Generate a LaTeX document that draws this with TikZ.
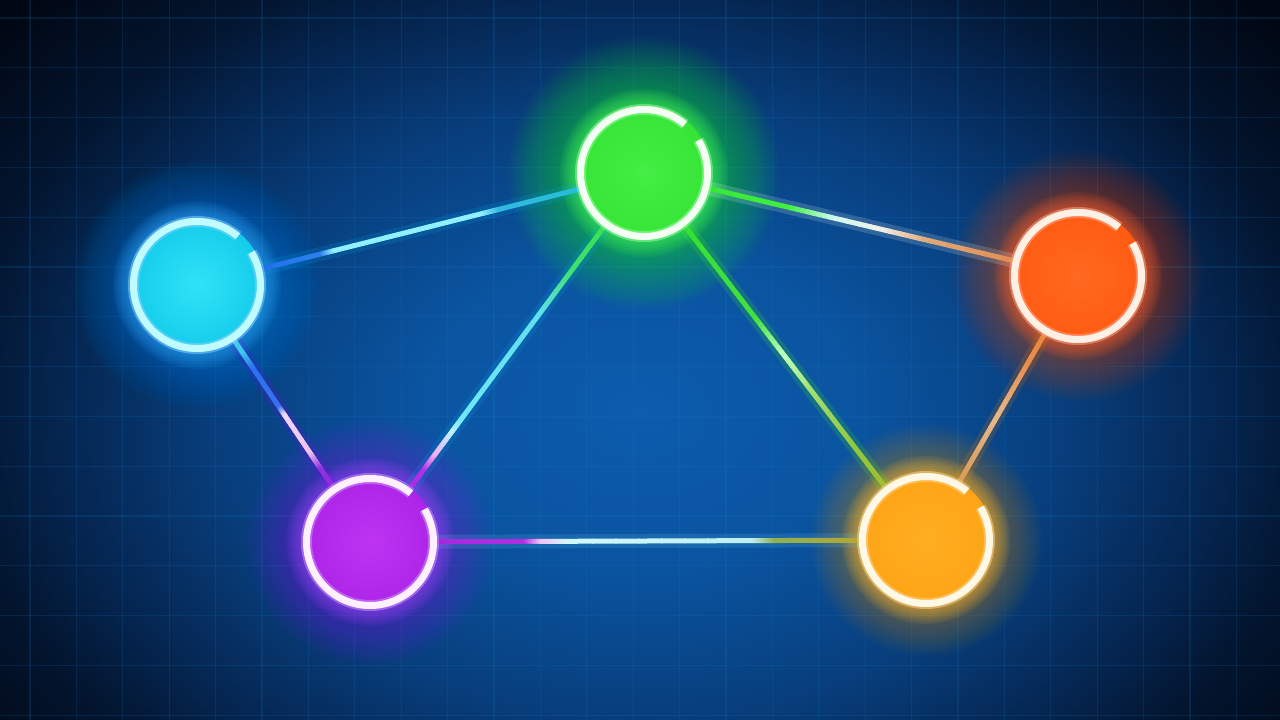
\documentclass[tikz,border=0pt]{standalone}
\usetikzlibrary{calc}
\pgfdeclarelayer{bgl}\pgfdeclarelayer{glowl}\pgfdeclarelayer{edgel}
\pgfsetlayers{bgl,glowl,edgel,main}
\pgfdeclareradialshading{bgshade}{\pgfpoint{0bp}{0bp}}{rgb(0bp)=(0.05,0.36,0.68);rgb(6bp)=(0.04,0.33,0.63);rgb(12bp)=(0.03,0.24,0.48);rgb(16bp)=(0.02,0.15,0.32);rgb(19bp)=(0.01,0.08,0.18);rgb(23bp)=(0.005,0.03,0.08);rgb(25bp)=(0.005,0.025,0.06);rgb(50bp)=(0.005,0.025,0.06)}
% gradient piece of a connector: from node #1 to node #2, between fractions #3 and #4, colours #5 -> #6 (HTML)
\newcommand\gseg[6]{%
  \definecolor{gsA}{HTML}{#5}\definecolor{gsB}{HTML}{#6}%
  \foreach \k in {0,...,7}{%
    \pgfmathsetmacro\ta{#3+(#4-#3)*\k/8}%
    \pgfmathsetmacro\tb{#3+(#4-#3)*(\k+1)/8}%
    \pgfmathtruncatemacro\pc{100-100*(\k+0.5)/8}%
    \draw[edgeline, color=gsA!\pc!gsB] ($(#1)!\ta!(#2)$) -- ($(#1)!\tb!(#2)$);
  }}
\newcommand\ringof[4]{% node, ring colour, glow colour, outer glow radius
  \begin{pgfonlayer}{glowl}
    \foreach \r in {66,68,...,#4}{\fill[#3, opacity=0.02] (#1.center) circle[radius=\r pt];}
    \foreach \w in {8,12,...,40}{\draw[#3!80!white, line width=\w pt, opacity=0.08] (#1.center) circle[radius=64pt];}
  \end{pgfonlayer}
  \draw[#3!45!white, line width=11pt, opacity=0.5] ([shift={(50:63.5pt)}]#1.center) arc[start angle=50, end angle=391, radius=63.5pt];
  \draw[#2, line width=7pt] ([shift={(50:63.5pt)}]#1.center) arc[start angle=50, end angle=391, radius=63.5pt];
}
\begin{document}
\begin{tikzpicture}[x=1pt, y=1pt,
  ball/.style={circle, minimum size=134pt, inner sep=0pt, draw=none},
  edgeline/.style={line width=5pt, line cap=round},
  edgeglow/.style={line width=14pt, opacity=0.16},
  gridline/.style={color=cyan!60!blue, line width=1.2pt, opacity=0.17}]
\useasboundingbox (0,0) rectangle (1280,720);
\definecolor{gCy}{HTML}{0098FF}\definecolor{gGr}{HTML}{20FF30}\definecolor{gOr}{HTML}{FF4000}
\definecolor{gPu}{HTML}{9020FF}\definecolor{gAm}{HTML}{FFA800}
\definecolor{rCy}{HTML}{C0FCFF}\definecolor{rGr}{HTML}{F4FFF4}\definecolor{rOr}{HTML}{FFF0E6}
\definecolor{rPu}{HTML}{FFF0FF}\definecolor{rAm}{HTML}{FFF8E6}
\definecolor{iCy}{HTML}{30E2F8}\definecolor{oCy}{HTML}{14CCEA}
\definecolor{iGr}{HTML}{44EE44}\definecolor{oGr}{HTML}{36E436}
\definecolor{iOr}{HTML}{FF6A20}\definecolor{oOr}{HTML}{FF5A12}
\definecolor{iPu}{HTML}{BE34F2}\definecolor{oPu}{HTML}{AE24E8}
\definecolor{iAm}{HTML}{FFAE22}\definecolor{oAm}{HTML}{FFA416}
% background
\begin{pgfonlayer}{bgl}
  \fill[black!90!blue] (0,0) rectangle (1280,720);
  \begin{scope}
    \clip (0,0) rectangle (1280,720);
    \shade[shading=bgshade] (640,310) ellipse[x radius=900, y radius=650];
    \foreach \k in {0,...,27}{\draw[gridline] (30+46.4*\k,0) -- (30+46.4*\k,720);}
    \foreach \k in {0,...,14}{\draw[gridline] (0,702-49.8*\k) -- (1280,702-49.8*\k);}
  \end{scope}
\end{pgfonlayer}
% nodes
\node[ball, inner color=iCy, outer color=oCy] (cy) at (197,435) {};
\node[ball, inner color=iGr, outer color=oGr] (gr) at (644,547) {};
\node[ball, inner color=iOr, outer color=oOr] (or) at (1078,444) {};
\node[ball, inner color=iPu, outer color=oPu] (pu) at (370,178) {};
\node[ball, inner color=iAm, outer color=oAm] (am) at (926,180) {};
\ringof{cy}{rCy}{gCy}{124}
\ringof{gr}{rGr}{gGr}{136}
\ringof{or}{rOr}{gOr}{126}
\ringof{pu}{rPu}{gPu}{124}
\ringof{am}{rAm}{gAm}{116}
% connectors
\begin{pgfonlayer}{edgel}
  \draw[edgeglow, color=cyan] (cy) -- (gr);
  \draw[edgeglow, color=white] (gr) -- (or);
  \draw[edgeglow, color=blue!50!magenta] (cy) -- (pu);
  \draw[edgeglow, color=cyan] (pu) -- (gr);
  \draw[edgeglow, color=green!70!yellow] (gr) -- (am);
  \draw[edgeglow, color=orange] (or) -- (am);
  \draw[edgeglow, color=cyan!60!white] (pu) -- (am);
  % cyan -- green
  \gseg{cy}{gr}{0}{0.28}{1A5EE0}{2A80F0}
  \gseg{cy}{gr}{0.28}{0.31}{2A80F0}{8FF0FF}
  \gseg{cy}{gr}{0.31}{0.64}{8FF0FF}{90F0FF}
  \gseg{cy}{gr}{0.64}{0.68}{90F0FF}{30B8E0}
  \gseg{cy}{gr}{0.68}{1}{30B8E0}{20C0D0}
  % green -- orange-red
  \gseg{gr}{or}{0}{0.34}{30E030}{40F040}
  \gseg{gr}{or}{0.34}{0.44}{40F040}{D0F8F0}
  \gseg{gr}{or}{0.44}{0.55}{D0F8F0}{F0F0E8}
  \gseg{gr}{or}{0.55}{0.66}{F0F0E8}{E0A878}
  \gseg{gr}{or}{0.66}{1}{E0A878}{E87838}
  % cyan -- purple
  \gseg{cy}{pu}{0}{0.27}{30E0F0}{40C8F0}
  \gseg{cy}{pu}{0.27}{0.33}{40C8F0}{2A70F0}
  \gseg{cy}{pu}{0.33}{0.48}{2A70F0}{3A70F0}
  \gseg{cy}{pu}{0.48}{0.51}{3A70F0}{F0D8F8}
  \gseg{cy}{pu}{0.51}{0.66}{F0D8F8}{F0C0F0}
  \gseg{cy}{pu}{0.66}{0.72}{F0C0F0}{9030E0}
  \gseg{cy}{pu}{0.72}{1}{9030E0}{A020E0}
  % purple -- green
  \gseg{pu}{gr}{0}{0.20}{A020E0}{B030E8}
  \gseg{pu}{gr}{0.20}{0.24}{B030E8}{F0B0F0}
  \gseg{pu}{gr}{0.24}{0.30}{F0B0F0}{C0F0FF}
  \gseg{pu}{gr}{0.30}{0.34}{C0F0FF}{70E8F8}
  \gseg{pu}{gr}{0.34}{0.62}{70E8F8}{60E0F0}
  \gseg{pu}{gr}{0.62}{0.74}{60E0F0}{40E070}
  \gseg{pu}{gr}{0.74}{1}{40E070}{30E030}
  % green -- amber
  \gseg{gr}{am}{0}{0.40}{30E030}{40E040}
  \gseg{gr}{am}{0.40}{0.50}{40E040}{C0FFC0}
  \gseg{gr}{am}{0.50}{0.60}{C0FFC0}{A0E070}
  \gseg{gr}{am}{0.60}{0.75}{A0E070}{90C840}
  \gseg{gr}{am}{0.75}{1}{90C840}{C0B020}
  % orange-red -- amber
  \gseg{or}{am}{0}{0.35}{F07020}{E89050}
  \gseg{or}{am}{0.35}{0.55}{E89050}{E8B888}
  \gseg{or}{am}{0.55}{0.75}{E8B888}{D8A060}
  \gseg{or}{am}{0.75}{1}{D8A060}{E0A030}
  % purple -- amber
  \gseg{pu}{am}{0}{0.28}{A020E0}{B030E0}
  \gseg{pu}{am}{0.28}{0.31}{B030E0}{F0C0F8}
  \gseg{pu}{am}{0.31}{0.36}{F0C0F8}{D0F8FF}
  \gseg{pu}{am}{0.36}{0.69}{D0F8FF}{C0F0F0}
  \gseg{pu}{am}{0.69}{0.73}{C0F0F0}{90B050}
  \gseg{pu}{am}{0.73}{1}{90B050}{D0A020}
\end{pgfonlayer}
\end{tikzpicture}
\end{document}
